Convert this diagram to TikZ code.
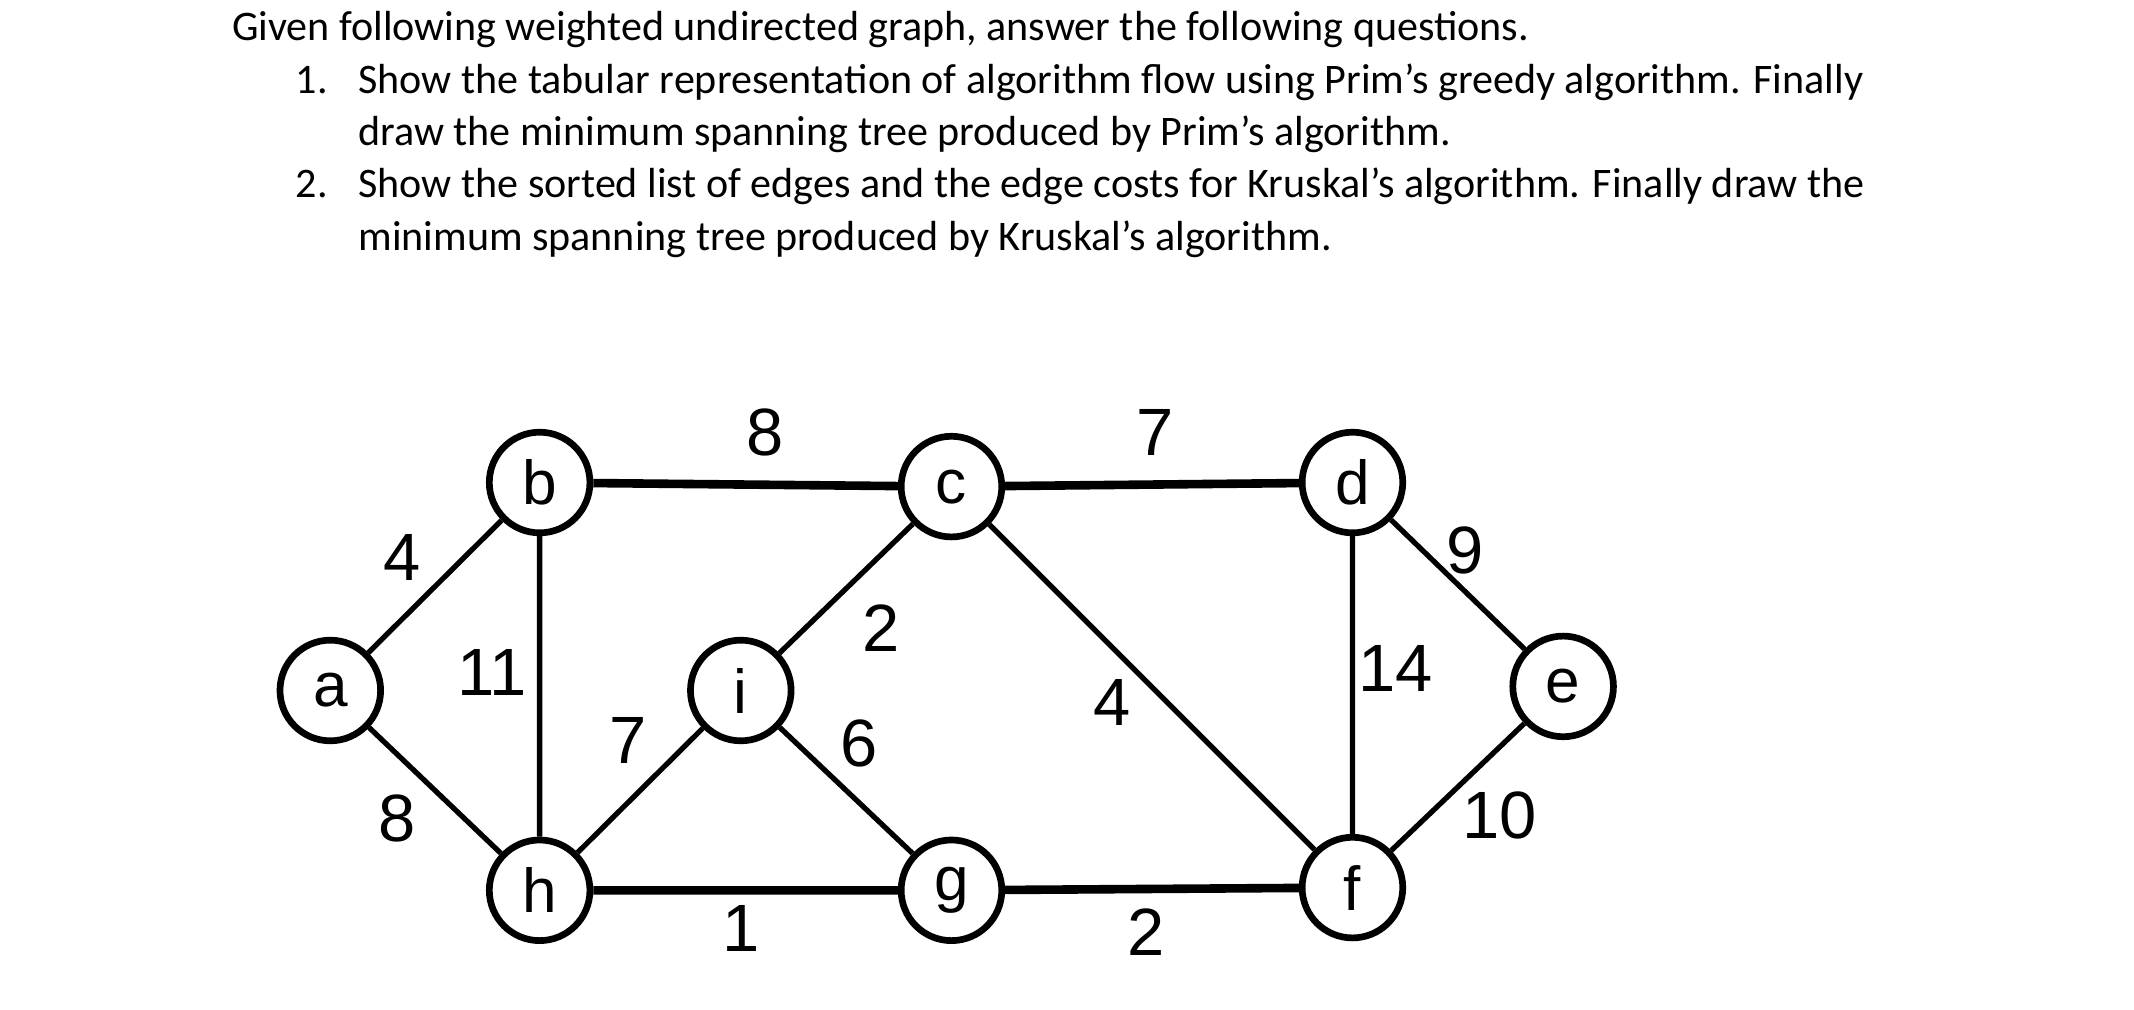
\documentclass[tikz,border=0pt]{standalone}
\usepackage{fontspec}
\setmainfont{Carlito}
\newfontfamily\arialf{Liberation Sans}
\begin{document}
\begin{tikzpicture}[x=0.01cm,y=-0.01cm,
  vtx/.style={circle,draw,line width=1.4pt,minimum size=0.74cm,inner sep=0pt,font=\arialf\fontsize{13}{13}\selectfont},
  thin/.style={line width=1.1pt},
  thick2/.style={line width=1.8pt},
  wl/.style={font=\arialf\fontsize{14}{14}\selectfont},
  txt/.style={anchor=base west,inner sep=0pt,font=\fontsize{8.8}{10}\selectfont}]
\useasboundingbox (0,0) rectangle (1570,743);
\node[txt] (t0) at (170,30) {Given following weighted undirected graph, answer the following questions.};
\node[txt] (n1) at (217,69) {1.};
\node[txt] (t1) at (263,69) {Show the tabular representation of algorithm flow using Prim’s greedy algorithm. Finally};
\node[txt] (t2) at (263,107) {draw the minimum spanning tree produced by Prim’s algorithm.};
\node[txt] (n2) at (217,145) {2.};
\node[txt] (t3) at (263,145) {Show the sorted list of edges and the edge costs for Kruskal’s algorithm. Finally draw the};
\node[txt] (t4) at (263,184) {minimum spanning tree produced by Kruskal’s algorithm.};
\node[vtx] (a) at (243,508) {a};
\node[vtx] (b) at (397,355) {b};
\node[vtx] (c) at (700,358) {c};
\node[vtx] (d) at (995,355) {d};
\node[vtx] (e) at (1150,505) {e};
\node[vtx] (f) at (995,653) {f};
\node[vtx] (g) at (700,655) {g};
\node[vtx] (h) at (397,655) {h};
\node[vtx] (i) at (545,508) {i};
\draw[thin] (a)--(b) (a)--(h) (b)--(h) (i)--(c) (i)--(h) (i)--(g) (c)--(f) (d)--(f) (d)--(e) (e)--(f);
\draw[thick2] (b)--(c) (c)--(d) (h)--(g) (g)--(f);
\node[wl] (l1) at (563,318) {8};
\node[wl] (l2) at (850,318) {7};
\node[wl] (l3) at (296,410) {4};
\node[wl] (l4) at (1078,405) {9};
\node[wl] (l5) at (362,495) {11};
\node[wl] (l6) at (648,462) {2};
\node[wl] (l7) at (1027,492) {14};
\node[wl] (l8) at (818,517) {4};
\node[wl] (l9) at (462,545) {7};
\node[wl] (l10) at (632,547) {6};
\node[wl] (l11) at (292,602) {8};
\node[wl] (l12) at (1103,600) {10};
\node[wl] (l13) at (545,683) {1};
\node[wl] (l14) at (843,686) {2};
\end{tikzpicture}
\end{document}
